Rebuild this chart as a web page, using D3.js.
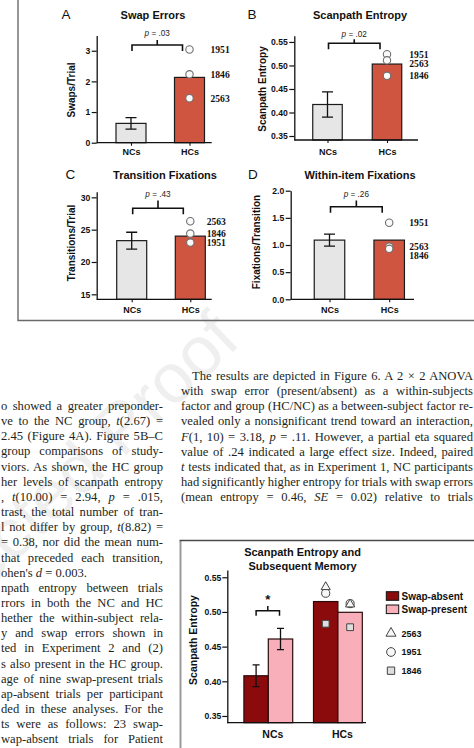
<!DOCTYPE html>
<html><head><meta charset="utf-8">
<script src="https://cdn.jsdelivr.net/npm/d3@7"></script>
<style>html,body{margin:0;padding:0;background:#fff}svg{display:block}</style>
</head><body>
<svg id="c" width="474" height="748"></svg>
<script>
// ---------------- DATA ----------------
const groups = ["NCs", "HCs"];
const swapMeans = [0.63, 2.13];
const swapErr = [0.19, 0];
const swapPatients = ["1951", "1846", "2563"];
const swapPatientVals = [3.04, 2.23, 1.45];
const swapTicks = [0, 1, 2, 3];

const entropyMeans = [0.417, 0.503];
const entropyErr = [0.027, 0];
const entropyPatients = ["1951", "2563", "1846"];
const entropyPatientVals = [0.524, 0.511, 0.478];
const entropyTicks = [0.35, 0.40, 0.45, 0.50, 0.55];

const transMeans = [23.3, 24.0];
const transErr = [1.3, 0];
const transPatients = ["2563", "1846", "1951"];
const transPatientVals = [26.3, 24.4, 23.0];
const transTicks = [15, 20, 25, 30];

const withinMeans = [1.09, 1.09];
const withinErr = [0.11, 0];
const withinPatients = ["1951", "2563", "1846"];
const withinPatientVals = [1.41, 0.97, 0.93];
const withinTicks = [0, 0.5, 1.0, 1.5, 2.0];

const panelLetters = ["A", "B", "C", "D"];
const panelTitles = ["Swap Errors", "Scanpath Entropy", "Transition Fixations", "Within-item Fixations"];
const panelYLabels = ["Swaps/Trial", "Scanpath Entropy", "Transitions/Trial", "Fixations/Transition"];
const pValues = [".03", ".02", ".43", ".26"];

// bottom chart
const memSeries = ["Swap-absent", "Swap-present"];
const memAbsent = [0.408, 0.515];
const memPresent = [0.461, 0.4995];
const memAbsentErr = [0.0158, 0];
const memPresentErr = [0.0153, 0];
const memPatients = ["2563", "1951", "1846"];
const memPatientShapes = ["triangle", "circle", "square"];
const memPatientAbsent = [0.536, 0.527, 0.483];
const memPatientPresent = [0.511, 0.512, 0.478];
const memTicks = [0.35, 0.40, 0.45, 0.50, 0.55];
const memTitle = ["Scanpath Entropy and", "Subsequent Memory"];

// text
const leftLines = [
  "o showed a greater preponder-",
  "ve to the NC group, *t*(2.67) =",
  "2.45 (Figure 4A). Figure 5B–C",
  "group comparisons of study-",
  "viors. As shown, the HC group",
  "her levels of scanpath entropy",
  ", *t*(10.00) = 2.94, *p* = .015,",
  "trast, the total number of tran-",
  "l not differ by group, *t*(8.82) =",
  "= 0.38, nor did the mean num-",
  "that preceded each transition,",
  "ohen's *d* = 0.003.",
  "npath entropy between trials",
  "rrors in both the NC and HC",
  "hether the within-subject rela-",
  "y and swap errors shown in",
  "ted in Experiment 2 and (2)",
  "s also present in the HC group.",
  "age of nine swap-present trials",
  "ap-absent trials per participant",
  "ded in these analyses. For the",
  "ts were as follows: 23 swap-",
  "wap-absent trials for Patient"
];
const rightLines = [
  "The results are depicted in Figure 6. A 2 × 2 ANOVA",
  "with swap error (present/absent) as a within-subjects",
  "factor and group (HC/NC) as a between-subject factor re-",
  "vealed only a nonsignificant trend toward an interaction,",
  "*F*(1, 10) = 3.18, *p* = .11. However, a partial eta squared",
  "value of .24 indicated a large effect size. Indeed, paired",
  "*t* tests indicated that, as in Experiment 1, NC participants",
  "had significantly higher entropy for trials with swap errors",
  "(mean entropy = 0.46, *SE* = 0.02) relative to trials"
];

// ---------------- DRAWING ----------------
const SANS = "'Liberation Sans', Arial, Helvetica, sans-serif";
const SERIF = "'Liberation Serif', 'Times New Roman', serif";
const svg = d3.select("#c");

// faint watermark (behind everything)
svg.append("text").attr("transform", "translate(38,540) rotate(-44)").attr("text-anchor", "middle")
  .attr("font-family", SANS).attr("font-size", 70).attr("fill", "#000").attr("opacity", 0.06)
  .text("Uncorrected Proof");

// body text
function textLine(str, x0, x1, y, justify) {
  const t = svg.append("text").attr("x", x0).attr("y", y)
    .attr("font-family", SERIF).attr("font-size", 12.6).attr("fill", "#231f20");
  str.split("*").forEach((seg, i) => {
    if (seg) t.append("tspan").attr("font-style", i % 2 ? "italic" : "normal").text(seg);
  });
  if (justify) {
    const w = t.node().getComputedTextLength();
    const n = (str.match(/ /g) || []).length;
    if (n > 0) t.attr("word-spacing", (x1 - x0 - w) / n);
  }
}
const lineH = 15.15;
leftLines.forEach((s, i) => textLine(s, 1, 163, 410 + lineH * i, i !== 11));
rightLines.forEach((s, i) => textLine(s, i === 0 ? 192 : 181, 473, 380 + lineH * i, true));

// frames
svg.append("path").attr("d", "M18,-2V320.5H476").attr("fill", "none").attr("stroke", "#6a6a6a").attr("stroke-width", 1.4);
svg.append("path").attr("d", "M180.5,750V541").attr("fill", "none").attr("stroke", "#9a9a9a").attr("stroke-width", 2);
svg.append("path").attr("d", "M179.5,540.5H476").attr("fill", "none").attr("stroke", "#4a4a4a").attr("stroke-width", 1.4);

// ---- top panels ----
const topData = [
  {means: swapMeans, err: swapErr, names: swapPatients, vals: swapPatientVals, ticks: swapTicks, fmt: d3.format("d")},
  {means: entropyMeans, err: entropyErr, names: entropyPatients, vals: entropyPatientVals, ticks: entropyTicks, fmt: d3.format(".2f")},
  {means: transMeans, err: transErr, names: transPatients, vals: transPatientVals, ticks: transTicks, fmt: d3.format("d")},
  {means: withinMeans, err: withinErr, names: withinPatients, vals: withinPatientVals, ticks: withinTicks, fmt: d3.format(".1f")}
];
const topLayout = [
  {dom: [0, 3.5], axisX: 96.7, xEnd: 211.7, y0: 142.7, y1: 35.4, cx: [131, 189.5], bw: 30, brY: 45, spY: 40, pY: 36, letter: [61.5, 19.3], title: [153, 18.6], ylab: [71.7, 90], labX: 210.5, xlabY: 155.5},
  {dom: [0.3415, 0.5633], axisX: 294.3, xEnd: 418, y0: 140, y1: 35.7, cx: [327.5, 387], bw: 29.5, brY: 43.3, spY: 39.3, pY: 36.5, letter: [247.5, 19.3], title: [360, 18.6], ylab: [262.7, 89], labX: 409.3, xlabY: 154.5},
  {dom: [14.23, 30.87], axisX: 96.7, xEnd: 211.7, y0: 299.3, y1: 191.7, cx: [131.7, 190.3], bw: 30, brY: 208.3, spY: 200.5, pY: 196.5, letter: [65.5, 179.3], title: [165, 178.6], ylab: [71.7, 243], labX: 206.7, xlabY: 313.5},
  {dom: [0, 2], axisX: 290.7, xEnd: 414, y0: 299.3, y1: 190.7, cx: [329.5, 389.2], bw: 30.5, brY: 206.7, spY: 200.5, pY: 196.5, letter: [248, 179.3], title: [360, 178.6], ylab: [256.7, 242], labX: 409.3, xlabY: 313.5}
];
const barFills = ["#e6e6e6", "#cf5541"];

topData.forEach((d, k) => {
  const L = topLayout[k];
  const g = svg.append("g");
  const y = d3.scaleLinear().domain(L.dom).range([L.y0, L.y1]);
  const x = d3.scalePoint().domain(groups).range(L.cx);

  g.append("text").attr("x", L.letter[0]).attr("y", L.letter[1]).attr("font-family", SANS)
    .attr("font-size", 13.5).attr("fill", "#111").text(panelLetters[k]);
  g.append("text").attr("x", L.title[0]).attr("y", L.title[1]).attr("text-anchor", "middle")
    .attr("font-family", SANS).attr("font-weight", "bold").attr("font-size", 11).attr("fill", "#111").text(panelTitles[k]);
  g.append("text").attr("transform", `translate(${L.ylab[0]},${L.ylab[1]}) rotate(-90)`)
    .attr("text-anchor", "middle").attr("dominant-baseline", "central")
    .attr("font-family", SANS).attr("font-weight", "bold").attr("font-size", 10).attr("fill", "#111").text(panelYLabels[k]);

  // bars
  g.selectAll("rect.bar").data(groups).join("rect")
    .attr("x", (gname) => x(gname) - L.bw / 2).attr("width", L.bw)
    .attr("y", (gname, i) => y(d.means[i])).attr("height", (gname, i) => L.y0 - y(d.means[i]))
    .attr("fill", (gname, i) => barFills[i]).attr("stroke", "#1b1b1b").attr("stroke-width", 1.2);

  // error bars
  groups.forEach((gname, i) => {
    if (!d.err[i]) return;
    const cx = x(gname), lo = y(d.means[i] - d.err[i]), hi = y(d.means[i] + d.err[i]);
    g.append("path").attr("d", `M${cx},${lo}V${hi}M${cx - 5.5},${hi}H${cx + 5.5}M${cx - 5.5},${lo}H${cx + 5.5}`)
      .attr("stroke", "#111").attr("stroke-width", 1.3).attr("fill", "none");
  });

  // axes
  const ay = g.append("g").attr("transform", `translate(${L.axisX},0)`)
    .call(d3.axisLeft(y).tickValues(d.ticks).tickFormat(d.fmt).tickSize(5).tickSizeOuter(0).tickPadding(1.5));
  ay.select(".domain").attr("stroke", "#111").attr("stroke-width", 1.3);
  ay.selectAll(".tick line").attr("stroke", "#111").attr("stroke-width", 1.2);
  ay.selectAll(".tick text").attr("font-family", SANS).attr("font-weight", "bold").attr("font-size", 8.6).attr("fill", "#111");
  const ax = g.append("g").attr("transform", `translate(0,${L.y0})`)
    .call(d3.axisBottom(x).tickSize(3).tickSizeOuter(0).tickPadding(2));
  ax.select(".domain").remove();
  ax.selectAll(".tick line").attr("stroke", "#111").attr("stroke-width", 1.1);
  ax.selectAll(".tick text").attr("font-family", SANS).attr("font-weight", "bold").attr("font-size", 9).attr("fill", "#111")
    .attr("dy", null).attr("y", L.xlabY - L.y0);
  g.append("line").attr("x1", L.axisX).attr("x2", L.xEnd).attr("y1", L.y0).attr("y2", L.y0)
    .attr("stroke", "#111").attr("stroke-width", 1.3);

  // patient dots
  const hx = x(groups[1]);
  g.selectAll("circle.pt").data(d.vals).join("circle")
    .attr("cx", hx).attr("cy", (v) => y(v)).attr("r", 3.7)
    .attr("fill", "#fafafa").attr("stroke", "#6e6e6e").attr("stroke-width", 1.1);

  // patient labels, spread to avoid overlap
  const order = d.vals.map((v, i) => ({i, yy: y(v)})).sort((a, b) => a.yy - b.yy);
  for (let j = 1; j < order.length; j++) {
    if (order[j].yy - order[j - 1].yy < 9.5) order[j].yy = order[j - 1].yy + 9.5;
  }
  order.forEach((o) => {
    g.append("text").attr("x", L.labX).attr("y", o.yy).attr("dy", "0.35em")
      .attr("font-family", SERIF).attr("font-weight", "bold").attr("font-size", 9.6).attr("fill", "#111")
      .text(d.names[o.i]);
  });

  // significance bracket
  const bx1 = x(groups[0]) + 1, bx2 = x(groups[1]) - 7, bm = (bx1 + bx2) / 2;
  g.append("path").attr("d", `M${bx1},${L.brY + 6}V${L.brY}H${bx2}V${L.brY + 6}M${bm},${L.brY}V${L.spY}`)
    .attr("fill", "none").attr("stroke", "#111").attr("stroke-width", 1.6);
  const pt = g.append("text").attr("x", bm).attr("y", L.pY).attr("text-anchor", "middle")
    .attr("font-family", SANS).attr("font-size", 8.2).attr("fill", "#222");
  pt.append("tspan").attr("font-style", "italic").text("p");
  pt.append("tspan").text(" = " + pValues[k]);
});

// ---- bottom chart ----
{
  const g = svg.append("g");
  const y = d3.scaleLinear().domain([0.3403, 0.5605]).range([722.7, 570]);
  const x0 = d3.scalePoint().domain(groups).range([268.3, 337.9]);
  const x1 = d3.scaleBand().domain(memSeries).range([-24.4, 24.4]);
  const fills = ["#8b0a0c", "#f8afba"];
  const seriesVals = [memAbsent, memPresent];
  const seriesErr = [memAbsentErr, memPresentErr];

  memTitle.forEach((t, i) => {
    g.append("text").attr("x", 302.5).attr("y", 556 + 14 * i).attr("text-anchor", "middle")
      .attr("font-family", SANS).attr("font-weight", "bold").attr("font-size", 11).attr("fill", "#111").text(t);
  });

  memSeries.forEach((s, si) => {
    g.selectAll(null).data(groups).join("rect")
      .attr("x", (gn) => x0(gn) + x1(s)).attr("width", x1.bandwidth())
      .attr("y", (gn, i) => y(seriesVals[si][i])).attr("height", (gn, i) => 722.7 - y(seriesVals[si][i]))
      .attr("fill", fills[si]).attr("stroke", "#2a0a0a").attr("stroke-width", 1.2);
  });
  memSeries.forEach((s, si) => {
    groups.forEach((gn, i) => {
      const e = seriesErr[si][i];
      if (!e) return;
      const cx = x0(gn) + x1(s) + x1.bandwidth() / 2;
      const lo = y(seriesVals[si][i] - e), hi = y(seriesVals[si][i] + e);
      g.append("path").attr("d", `M${cx},${lo}V${hi}M${cx - 3.5},${hi}H${cx + 3.5}M${cx - 3.5},${lo}H${cx + 3.5}`)
        .attr("stroke", "#111").attr("stroke-width", 1.3).attr("fill", "none");
    });
  });

  // axes
  const ay = g.append("g").attr("transform", "translate(227.3,0)")
    .call(d3.axisLeft(y).tickValues(memTicks).tickFormat(d3.format(".2f")).tickSize(5).tickSizeOuter(0).tickPadding(1));
  ay.select(".domain").attr("stroke", "#111").attr("stroke-width", 1.3);
  ay.selectAll(".tick line").attr("stroke", "#111").attr("stroke-width", 1.2);
  ay.selectAll(".tick text").attr("font-family", SANS).attr("font-weight", "bold").attr("font-size", 8.6).attr("fill", "#111");
  g.append("line").attr("x1", 227.3).attr("x2", 366).attr("y1", 722.7).attr("y2", 722.7).attr("stroke", "#111").attr("stroke-width", 1.3);
  const ax = g.append("g").attr("transform", "translate(4,722.7)")
    .call(d3.axisBottom(x0).tickSize(0).tickSizeOuter(0).tickPadding(0));
  ax.select(".domain").remove();
  ax.selectAll(".tick text").attr("font-family", SANS).attr("font-weight", "bold").attr("font-size", 10.5).attr("fill", "#111")
    .attr("dy", null).attr("y", 15.5);
  g.append("text").attr("transform", "translate(192.7,640) rotate(-90)").attr("text-anchor", "middle")
    .attr("dominant-baseline", "central").attr("font-family", SANS).attr("font-weight", "bold")
    .attr("font-size", 10.5).attr("fill", "#111").text("Scanpath Entropy");

  // bracket with asterisk
  const bxa = x0(groups[0]) + x1(memSeries[0]) + x1.bandwidth() / 2;
  const bxb = x0(groups[0]) + x1(memSeries[1]) + x1.bandwidth() / 2 - 1;
  const bm = (bxa + bxb) / 2;
  g.append("path").attr("d", `M${bxa},615.7V610.7H${bxb}V615.7M${bm},610.7V606`)
    .attr("fill", "none").attr("stroke", "#111").attr("stroke-width", 1.5);
  g.append("text").attr("x", bm).attr("y", 603.5).attr("text-anchor", "middle")
    .attr("font-family", SANS).attr("font-weight", "bold").attr("font-size", 13).attr("fill", "#111").text("*");

  // patient markers
  const sym = {triangle: d3.symbolTriangle, circle: d3.symbolCircle, square: d3.symbolSquare};
  const symSize = {triangle: 36, circle: 52, square: 46};
  const symFill = {triangle: "#f7f7f7", circle: "#f7f7f7", square: "#dedede"};
  [memPatientAbsent, memPatientPresent].forEach((vals, si) => {
    const cx = x0(groups[1]) + x1(memSeries[si]) + x1.bandwidth() / 2;
    [1, 0, 2].forEach((p) => {
      g.append("path").attr("d", d3.symbol(sym[memPatientShapes[p]], symSize[memPatientShapes[p]])())
        .attr("transform", `translate(${cx},${y(vals[p])})`)
        .attr("fill", symFill[memPatientShapes[p]]).attr("stroke", "#444").attr("stroke-width", 1);
    });
  });

  // legend
  memSeries.forEach((s, i) => {
    g.append("rect").attr("x", 386.3).attr("y", 591.7 + 13.3 * i).attr("width", 12.4).attr("height", 8.6)
      .attr("fill", fills[i]).attr("stroke", "#111").attr("stroke-width", 1);
    g.append("text").attr("x", 401.5).attr("y", 599.5 + 13.3 * i).attr("font-family", SANS).attr("font-weight", "bold")
      .attr("font-size", 10).attr("fill", "#111").text(s);
  });
  memPatients.forEach((p, i) => {
    const cy = 633.3 + 18.7 * i;
    g.append("path").attr("d", d3.symbol(sym[memPatientShapes[i]], symSize[memPatientShapes[i]] + 8)())
      .attr("transform", `translate(391,${cy})`)
      .attr("fill", symFill[memPatientShapes[i]]).attr("stroke", "#444").attr("stroke-width", 1);
    g.append("text").attr("x", 401.5).attr("y", cy).attr("dy", "0.36em").attr("font-family", SANS).attr("font-weight", "bold")
      .attr("font-size", 9).attr("fill", "#111").text(p);
  });
}
</script>
</body></html>
